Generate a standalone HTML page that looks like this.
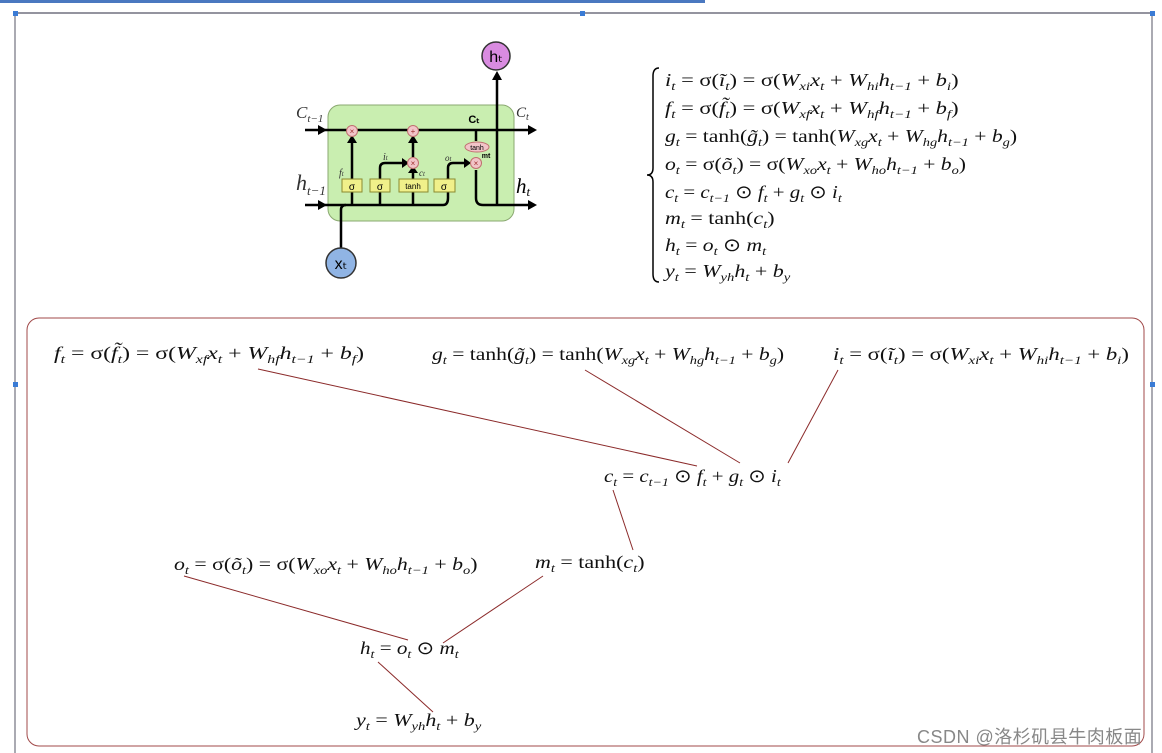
<!DOCTYPE html>
<html><head><meta charset="utf-8"><style>
body{margin:0;width:1162px;height:753px;background:#fff;position:relative;overflow:hidden;font-family:"Liberation Serif",serif}
.eq{position:absolute;font-size:18px;white-space:nowrap;color:#111;line-height:20px;transform-origin:0 50%}
.eq sub{font-size:12px;vertical-align:-4px;font-style:italic}
i{font-style:italic}
</style></head><body>
<div style="position:absolute;left:0;top:0;width:705px;height:3px;background:#4a78c0"></div>
<svg width="1162" height="753" style="position:absolute;left:0;top:0">
<line x1="15" y1="13" x2="1152" y2="13" stroke="#556" stroke-width="1.2"/>
<line x1="15" y1="13" x2="15" y2="753" stroke="#556" stroke-width="1"/>
<line x1="1152" y1="13" x2="1152" y2="753" stroke="#556" stroke-width="1"/>
<rect x="13" y="11" width="5" height="5" fill="#3a7bd5"/><rect x="580" y="11" width="5" height="5" fill="#3a7bd5"/><rect x="1150" y="11" width="5" height="5" fill="#3a7bd5"/>
<rect x="13" y="382" width="5" height="5" fill="#3a7bd5"/><rect x="1150" y="382" width="5" height="5" fill="#3a7bd5"/>
<rect x="27" y="318" width="1117" height="428" rx="12" fill="none" stroke="#a04848" stroke-width="1"/>
<g stroke="#8b2a2a" stroke-width="1">
<line x1="258" y1="369" x2="697" y2="466"/><line x1="585" y1="370" x2="740" y2="463"/>
<line x1="838" y1="370" x2="788" y2="463"/><line x1="613" y1="490" x2="633" y2="550"/>
<line x1="184" y1="576" x2="408" y2="640"/><line x1="543" y1="576" x2="443" y2="643"/>
<line x1="378" y1="662" x2="433" y2="712"/></g>
<rect x="328" y="105" width="186" height="116" rx="12" fill="#c9eeb0" stroke="#8aa870"/>
<g stroke="#000" stroke-width="2.5" fill="none">
<line x1="305" y1="130" x2="528" y2="130"/>
<line x1="305" y1="205" x2="443" y2="205"/>
<path d="M443 205 Q448 205 448 198 L448 178"/>
<path d="M341 248 L341 210 Q341 205 346 205"/>
<line x1="352" y1="179" x2="352" y2="140"/>
<path d="M380 179 L380 168 Q380 163 385 163 L404 163"/>
<line x1="413" y1="179" x2="413" y2="170"/>
<line x1="413" y1="157" x2="413" y2="140"/>
<path d="M448 179 L448 168 Q448 163 453 163 L468 163"/>
<line x1="476" y1="130" x2="476" y2="141"/>
<path d="M476 170 L476 198 Q476 205 483 205 L528 205"/>
<line x1="497" y1="205" x2="497" y2="80"/>
<line x1="352" y1="205" x2="352" y2="192"/><line x1="380" y1="205" x2="380" y2="192"/><line x1="413" y1="205" x2="413" y2="192"/>
</g>
<g fill="#000"><polygon points="528,125 537,130 528,135"/><polygon points="528,200 537,205 528,210"/>
<polygon points="318,125 327,130 318,135"/><polygon points="318,200 327,205 318,210"/>
<polygon points="347,143 352,135 357,143"/><polygon points="408,143 413,135 418,143"/><polygon points="408,173 413,166 418,173"/>
<polygon points="402,158 409,163 402,168"/><polygon points="464,158 471,163 464,168"/><polygon points="492,80 497,71 502,80"/></g>
<g fill="#f2c4c8" stroke="#c07070"><circle cx="352" cy="131" r="5.5"/><circle cx="413" cy="131" r="5.5"/><circle cx="413" cy="163" r="5.5"/><circle cx="476" cy="163" r="5.5"/><ellipse cx="477" cy="147" rx="12" ry="5"/></g>
<g font-family="Liberation Sans" font-size="8" fill="#a03030" text-anchor="middle"><text x="352" y="134">×</text><text x="413" y="134">+</text><text x="413" y="166">×</text><text x="476" y="166">×</text></g>
<g fill="#f0f08a" stroke="#8a8a30"><rect x="342" y="179" width="20" height="13"/><rect x="370" y="179" width="20" height="13"/><rect x="399" y="179" width="29" height="13"/><rect x="434" y="179" width="21" height="13"/></g>
<g font-family="Liberation Sans" font-size="10" text-anchor="middle"><text x="352" y="190">σ</text><text x="380" y="190">σ</text><text x="413" y="189" font-size="8">tanh</text><text x="444" y="190">σ</text><text x="477" y="150" font-size="7">tanh</text><text x="486" y="158" font-size="7" font-weight="bold">mt</text><text x="474" y="123" font-size="11" font-weight="bold">Cₜ</text></g>
<circle cx="496" cy="56" r="14" fill="#d98be0" stroke="#333" stroke-width="1.5"/><text x="496" y="62" font-family="Liberation Sans" font-size="16" text-anchor="middle">hₜ</text>
<circle cx="341" cy="263" r="15" fill="#90b4e4" stroke="#333" stroke-width="1.5"/><text x="341" y="269" font-family="Liberation Sans" font-size="16" text-anchor="middle">xₜ</text>
<g font-family="Liberation Serif" font-style="italic" fill="#333"><text x="296" y="118" font-size="17">C<tspan font-size="11" dy="4">t−1</tspan></text><text x="516" y="117" font-size="15">C<tspan font-size="10" dy="3">t</tspan></text><text x="296" y="190" font-size="22">h<tspan font-size="13" dy="5">t−1</tspan></text><text x="516" y="193" font-size="21" fill="#000">h<tspan font-size="13" dy="3">t</tspan></text>
<text x="339" y="176" font-size="10">f<tspan font-size="7">t</tspan></text><text x="383" y="160" font-size="10">i<tspan font-size="7">t</tspan></text><text x="419" y="176" font-size="9">c<tspan font-size="7">t</tspan></text><text x="445" y="161" font-size="9">o<tspan font-size="7">t</tspan></text></g>
<path d="M659 68 Q653 68 653 76 L653 168 Q653 175 647 175 Q653 175 653 182 L653 274 Q653 282 659 282" fill="none" stroke="#000" stroke-width="1.5"/>
</svg>
<div class="eq" style="left:665px;top:70px;transform:scaleX(1.25)"><i>i</i><sub>t</sub> = σ(<i>ĩ</i><sub>t</sub>) = σ(<i>W</i><sub>xi</sub><i>x</i><sub>t</sub> + <i>W</i><sub>hi</sub><i>h</i><sub>t−1</sub> + <i>b</i><sub>i</sub>)</div>
<div class="eq" style="left:665px;top:98px;transform:scaleX(1.25)"><i>f</i><sub>t</sub> = σ(<i>f̃</i><sub>t</sub>) = σ(<i>W</i><sub>xf</sub><i>x</i><sub>t</sub> + <i>W</i><sub>hf</sub><i>h</i><sub>t−1</sub> + <i>b</i><sub>f</sub>)</div>
<div class="eq" style="left:665px;top:126px;transform:scaleX(1.2)"><i>g</i><sub>t</sub> = tanh(<i>g̃</i><sub>t</sub>) = tanh(<i>W</i><sub>xg</sub><i>x</i><sub>t</sub> + <i>W</i><sub>hg</sub><i>h</i><sub>t−1</sub> + <i>b</i><sub>g</sub>)</div>
<div class="eq" style="left:665px;top:154px;transform:scaleX(1.2)"><i>o</i><sub>t</sub> = σ(<i>õ</i><sub>t</sub>) = σ(<i>W</i><sub>xo</sub><i>x</i><sub>t</sub> + <i>W</i><sub>ho</sub><i>h</i><sub>t−1</sub> + <i>b</i><sub>o</sub>)</div>
<div class="eq" style="left:665px;top:182px;transform:scaleX(1.16)"><i>c</i><sub>t</sub> = <i>c</i><sub>t−1</sub> ⊙ <i>f</i><sub>t</sub> + <i>g</i><sub>t</sub> ⊙ <i>i</i><sub>t</sub></div>
<div class="eq" style="left:665px;top:208px;transform:scaleX(1.22)"><i>m</i><sub>t</sub> = tanh(<i>c</i><sub>t</sub>)</div>
<div class="eq" style="left:665px;top:235px;transform:scaleX(1.2)"><i>h</i><sub>t</sub> = <i>o</i><sub>t</sub> ⊙ <i>m</i><sub>t</sub></div>
<div class="eq" style="left:665px;top:261px;transform:scaleX(1.22)"><i>y</i><sub>t</sub> = <i>W</i><sub>yh</sub><i>h</i><sub>t</sub> + <i>b</i><sub>y</sub></div>

<div class="eq" style="left:54px;top:343px;transform:scaleX(1.32)"><i>f</i><sub>t</sub> = σ(<i>f̃</i><sub>t</sub>) = σ(<i>W</i><sub>xf</sub><i>x</i><sub>t</sub> + <i>W</i><sub>hf</sub><i>h</i><sub>t−1</sub> + <i>b</i><sub>f</sub>)</div>
<div class="eq" style="left:432px;top:344px;transform:scaleX(1.2)"><i>g</i><sub>t</sub> = tanh(<i>g̃</i><sub>t</sub>) = tanh(<i>W</i><sub>xg</sub><i>x</i><sub>t</sub> + <i>W</i><sub>hg</sub><i>h</i><sub>t−1</sub> + <i>b</i><sub>g</sub>)</div>
<div class="eq" style="left:833px;top:344px;transform:scaleX(1.26)"><i>i</i><sub>t</sub> = σ(<i>ĩ</i><sub>t</sub>) = σ(<i>W</i><sub>xi</sub><i>x</i><sub>t</sub> + <i>W</i><sub>hi</sub><i>h</i><sub>t−1</sub> + <i>b</i><sub>i</sub>)</div>
<div class="eq" style="left:604px;top:466px;transform:scaleX(1.16)"><i>c</i><sub>t</sub> = <i>c</i><sub>t−1</sub> ⊙ <i>f</i><sub>t</sub> + <i>g</i><sub>t</sub> ⊙ <i>i</i><sub>t</sub></div>
<div class="eq" style="left:174px;top:554px;transform:scaleX(1.21)"><i>o</i><sub>t</sub> = σ(<i>õ</i><sub>t</sub>) = σ(<i>W</i><sub>xo</sub><i>x</i><sub>t</sub> + <i>W</i><sub>ho</sub><i>h</i><sub>t−1</sub> + <i>b</i><sub>o</sub>)</div>
<div class="eq" style="left:535px;top:552px;transform:scaleX(1.22)"><i>m</i><sub>t</sub> = tanh(<i>c</i><sub>t</sub>)</div>
<div class="eq" style="left:360px;top:638px;transform:scaleX(1.17)"><i>h</i><sub>t</sub> = <i>o</i><sub>t</sub> ⊙ <i>m</i><sub>t</sub></div>
<div class="eq" style="left:356px;top:710px;transform:scaleX(1.22)"><i>y</i><sub>t</sub> = <i>W</i><sub>yh</sub><i>h</i><sub>t</sub> + <i>b</i><sub>y</sub></div>
<div style="position:absolute;left:917px;top:723px;font:18px 'Liberation Sans','Noto Sans CJK SC',sans-serif;color:#888;letter-spacing:0.5px">CSDN @洛杉矶县牛肉板面</div>
</body></html>
